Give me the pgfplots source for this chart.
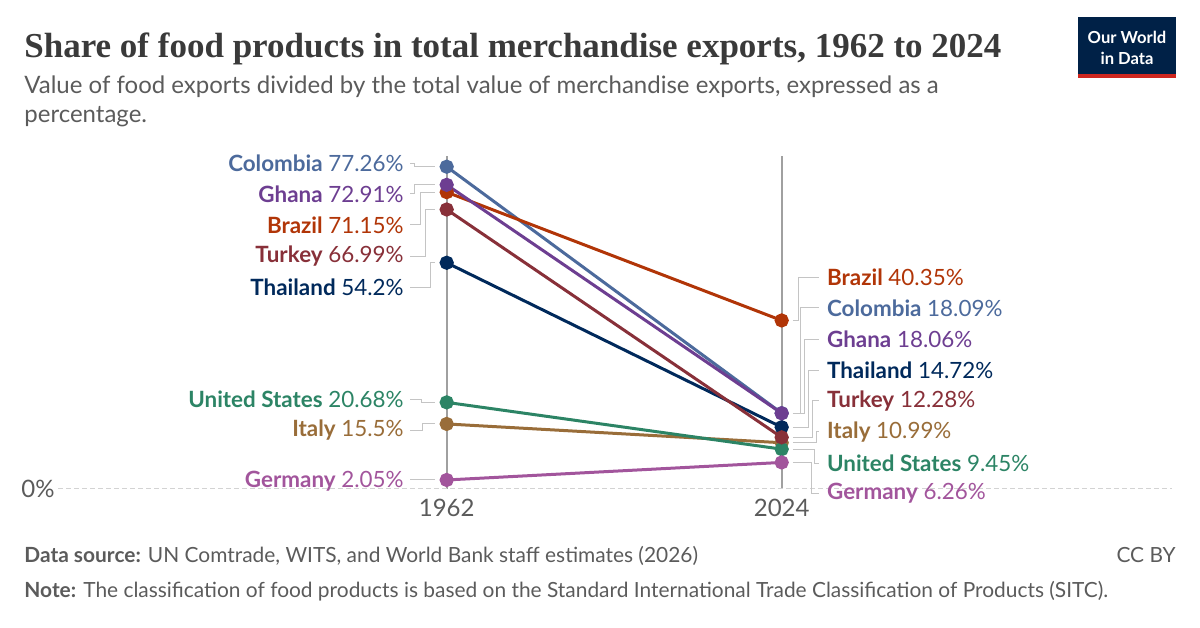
\documentclass[border=0pt]{standalone}
\usepackage{pgfplots}
\pgfplotsset{compat=1.18}
\usepackage{fontspec}
\setmainfont{Lato}
\newfontfamily\titlefont{Liberation Serif}

\definecolor{colombia}{HTML}{4C6A9C}
\definecolor{ghana}{HTML}{6D3E91}
\definecolor{brazil}{HTML}{B13507}
\definecolor{turkey}{HTML}{883039}
\definecolor{thailand}{HTML}{00295B}
\definecolor{usa}{HTML}{2C8465}
\definecolor{italy}{HTML}{996D39}
\definecolor{germany}{HTML}{A2559C}
\definecolor{titlegray}{HTML}{3A3A3A}
\definecolor{textgray}{HTML}{5B5B5B}
\definecolor{vgrid}{HTML}{A0A0A0}
\definecolor{hgrid}{HTML}{D3D3D3}
\definecolor{connector}{HTML}{C4C4C4}
\definecolor{owidnavy}{HTML}{002147}
\definecolor{owidred}{HTML}{CE261E}

\begin{document}
\begin{tikzpicture}
\path[use as bounding box] (0,0) rectangle (600pt,-313.5pt);

% header
\node[anchor=base west, inner sep=0, text=titlegray, font=\titlefont\bfseries\fontsize{17.5}{20}\selectfont]
  at (12pt,-28.5pt) {Share of food products in total merchandise exports, 1962 to 2024};
\node[anchor=base west, inner sep=0, text=textgray, font=\fontsize{12}{14}\selectfont]
  at (12pt,-46.5pt) {Value of food exports divided by the total value of merchandise exports, expressed as a};
\node[anchor=base west, inner sep=0, text=textgray, font=\fontsize{12}{14}\selectfont]
  at (12pt,-61pt) {percentage.};

% logo
\fill[owidnavy] (539pt,-8.5pt) rectangle (588pt,-39pt);
\fill[owidred] (539pt,-37pt) rectangle (588pt,-39pt);
\node[text=white, font=\bfseries\fontsize{8.3}{9}\selectfont, inner sep=0] at (563.5pt,-18.5pt) {Our World};
\node[text=white, font=\bfseries\fontsize{8.3}{9}\selectfont, inner sep=0] at (563.5pt,-29pt) {in Data};

% footer
\node[anchor=base west, inner sep=0, text=textgray, font=\fontsize{10.45}{12}\selectfont]
  at (12pt,-281pt) {\textbf{Data source:} UN Comtrade, WITS, and World Bank staff estimates (2026)};
\node[anchor=base west, inner sep=0, text=textgray, font=\fontsize{10.45}{12}\selectfont]
  at (12pt,-298.5pt) {\textbf{Note:} The classification of food products is based on the Standard International Trade Classification of Products (SITC).};
\node[anchor=base east, inner sep=0, text=textgray, font=\fontsize{10.45}{12}\selectfont]
  at (588pt,-281pt) {CC BY};

\begin{axis}[
  at={(29pt,-244.25pt)}, anchor=south west,
  scale only axis, width=557pt, height=166.25pt,
  xmin=1890.06, xmax=2096.24, ymin=0, ymax=79.83,
  axis line style={draw=none},
  major tick length=0pt,
  xtick={1962,2024}, xticklabels={1962,2024},
  ytick={0}, yticklabels={0\%},
  xmajorgrids, ymajorgrids,
  x grid style={color=vgrid, line width=0.9pt},
  y grid style={color=hgrid, line width=0.5pt, dash pattern=on 2.5pt off 1.5pt},
  tick label style={font=\fontsize{12}{14}\selectfont, text=textgray},
  xticklabel style={anchor=base, yshift=-14.1pt},
  yticklabel style={anchor=east, inner xsep=1.5pt},
  clip=false,
  every axis plot/.append style={line width=1.5pt, mark=*, mark size=2.8pt},
]
% series
\addplot[italy]    coordinates {(1962,15.5)  (2024,10.99)};
\addplot[usa]      coordinates {(1962,20.68) (2024,9.45)};
\addplot[germany]  coordinates {(1962,2.05)  (2024,6.26)};
\addplot[colombia] coordinates {(1962,77.26) (2024,18.09)};
\addplot[brazil]   coordinates {(1962,71.15) (2024,40.35)};
\addplot[thailand] coordinates {(1962,54.2)  (2024,14.72)};
\addplot[turkey]   coordinates {(1962,66.99) (2024,12.28)};
\addplot[ghana]    coordinates {(1962,72.91) (2024,18.06)};

% label connectors, 1962 side
\begin{scope}[connector, line width=0.5pt]
\draw (axis cs:1955.21,78.15) -- (axis cs:1956.13,78.15) |- (axis cs:1959.83,77.26);
\draw (axis cs:1955.21,70.71) -- (axis cs:1956.13,70.71) |- (axis cs:1959.83,72.91);
\draw (axis cs:1955.21,63.27) -- (axis cs:1957.06,63.27) |- (axis cs:1959.83,71.15);
\draw (axis cs:1955.21,55.82) -- (axis cs:1958.08,55.82) |- (axis cs:1959.83,66.99);
\draw (axis cs:1955.21,48.38) -- (axis cs:1958.91,48.38) |- (axis cs:1959.83,54.2);
\draw (axis cs:1955.21,21.49) -- (axis cs:1957.37,21.49) |- (axis cs:1959.83,20.68);
\draw (axis cs:1955.21,14.04) -- (axis cs:1957.61,14.04) |- (axis cs:1959.83,15.5);
\draw (axis cs:1955.21,2.05) -- (axis cs:1959.83,2.05);
% 2024 side
\draw (axis cs:2026.09,40.35) -- (axis cs:2027.02,40.35) |- (axis cs:2030.9,50.78);
\draw (axis cs:2026.09,18.09) -- (axis cs:2027.57,18.09) |- (axis cs:2030.9,43.34);
\draw (axis cs:2026.09,18.06) -- (axis cs:2028.31,18.06) |- (axis cs:2030.9,35.89);
\draw (axis cs:2026.09,14.72) -- (axis cs:2029.05,14.72) |- (axis cs:2030.9,28.45);
\draw (axis cs:2026.09,12.28) -- (axis cs:2029.79,12.28) |- (axis cs:2030.9,21.01);
\draw (axis cs:2026.09,10.99) -- (axis cs:2030.40,10.99) |- (axis cs:2030.9,13.57);
\draw (axis cs:2026.09,9.45)  -- (axis cs:2030.10,9.45)  |- (axis cs:2030.9,6.12);
\draw (axis cs:2026.09,6.26)  -- (axis cs:2029.50,6.26)  |- (axis cs:2030.9,-1.08);
\end{scope}

% labels
\begin{scope}[every node/.style={inner sep=0, font=\fontsize{11.2}{13}\selectfont}]
\node[anchor=east, text=colombia] at (axis cs:1954.1,78.15) {\textbf{Colombia} 77.26\%};
\node[anchor=east, text=ghana]    at (axis cs:1954.1,70.71) {\textbf{Ghana} 72.91\%};
\node[anchor=east, text=brazil]   at (axis cs:1954.1,63.27) {\textbf{Brazil} 71.15\%};
\node[anchor=east, text=turkey]   at (axis cs:1954.1,55.82) {\textbf{Turkey} 66.99\%};
\node[anchor=east, text=thailand] at (axis cs:1954.1,48.38) {\textbf{Thailand} 54.2\%};
\node[anchor=east, text=usa]      at (axis cs:1954.1,21.49) {\textbf{United States} 20.68\%};
\node[anchor=east, text=italy]    at (axis cs:1954.1,14.04) {\textbf{Italy} 15.5\%};
\node[anchor=east, text=germany]  at (axis cs:1954.1,1.8)   {\textbf{Germany} 2.05\%};

\node[anchor=west, text=brazil]   at (axis cs:2032.33,50.78) {\textbf{Brazil} 40.35\%};
\node[anchor=west, text=colombia] at (axis cs:2032.33,43.34) {\textbf{Colombia} 18.09\%};
\node[anchor=west, text=ghana]    at (axis cs:2032.33,35.89) {\textbf{Ghana} 18.06\%};
\node[anchor=west, text=thailand] at (axis cs:2032.33,28.45) {\textbf{Thailand} 14.72\%};
\node[anchor=west, text=turkey]   at (axis cs:2032.33,21.01) {\textbf{Turkey} 12.28\%};
\node[anchor=west, text=italy]    at (axis cs:2032.33,13.57) {\textbf{Italy} 10.99\%};
\node[anchor=west, text=usa]      at (axis cs:2032.33,6.12)  {\textbf{United States} 9.45\%};
\node[anchor=west, text=germany]  at (axis cs:2032.33,-1.08) {\textbf{Germany} 6.26\%};
\end{scope}
\end{axis}
\end{tikzpicture}
\end{document}
